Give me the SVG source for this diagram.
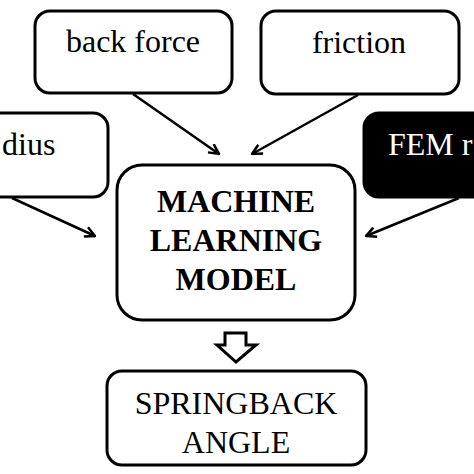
<svg xmlns="http://www.w3.org/2000/svg" width="474" height="474" viewBox="0 0 474 474">
<style>
.box{fill:#fff;stroke:#000;stroke-width:3}
.dark{fill:#000;stroke:#000;stroke-width:3}
.t{font-family:"Liberation Serif","Times New Roman",serif;font-size:32px;fill:#000}
.b{font-weight:bold}
.w{fill:#fff}
.c{fill:none;stroke:#000;stroke-width:2.5}
</style>
<defs>
<marker id="ah" viewBox="0 0 12 12" refX="11" refY="6" markerWidth="12" markerHeight="12" markerUnits="userSpaceOnUse" orient="auto">
<path d="M1,1 L11,6 L1,11" fill="none" stroke="#000" stroke-width="2.5"/>
</marker>
</defs>
<g id="connectors">
<line class="c" x1="133" y1="94" x2="219" y2="154" marker-end="url(#ah)"/>
<line class="c" x1="358" y1="95" x2="252" y2="154" marker-end="url(#ah)"/>
<line class="c" x1="12" y1="198" x2="95" y2="236" marker-end="url(#ah)"/>
<line class="c" x1="459" y1="198" x2="366" y2="236" marker-end="url(#ah)"/>
<path d="M225,333 L246,333 L246,345 L256,345 L236,362 L217,345 L225,345 Z" fill="#fff" stroke="#000" stroke-width="3" stroke-linejoin="miter"/>
</g>
<g id="back-force">
<rect class="box" x="35" y="11" width="197" height="82" rx="15"/>
<text class="t" x="133" y="52" text-anchor="middle">back force</text>
</g>
<g id="friction">
<rect class="box" x="261" y="11" width="198" height="83" rx="15"/>
<text class="t" x="359" y="53" text-anchor="middle">friction</text>
</g>
<g id="radius">
<rect class="box" x="-20" y="113" width="128" height="84" rx="15"/>
<text class="t" x="2" y="155">dius</text>
</g>
<g id="fem">
<rect class="dark" x="364" y="113" width="130" height="84" rx="15"/>
<text class="t w" x="388" y="155">FEM r</text>
</g>
<g id="ml-model">
<rect class="box" x="117" y="165" width="238" height="155" rx="25"/>
<text class="t b" x="236" y="212" text-anchor="middle">MACHINE</text>
<text class="t b" x="236" y="251" text-anchor="middle">LEARNING</text>
<text class="t b" x="236" y="290" text-anchor="middle">MODEL</text>
</g>
<g id="springback">
<rect class="box" x="107" y="371" width="259" height="94" rx="15"/>
<text class="t" x="236" y="414" text-anchor="middle">SPRINGBACK</text>
<text class="t" x="236" y="453" text-anchor="middle">ANGLE</text>
</g>
</svg>
